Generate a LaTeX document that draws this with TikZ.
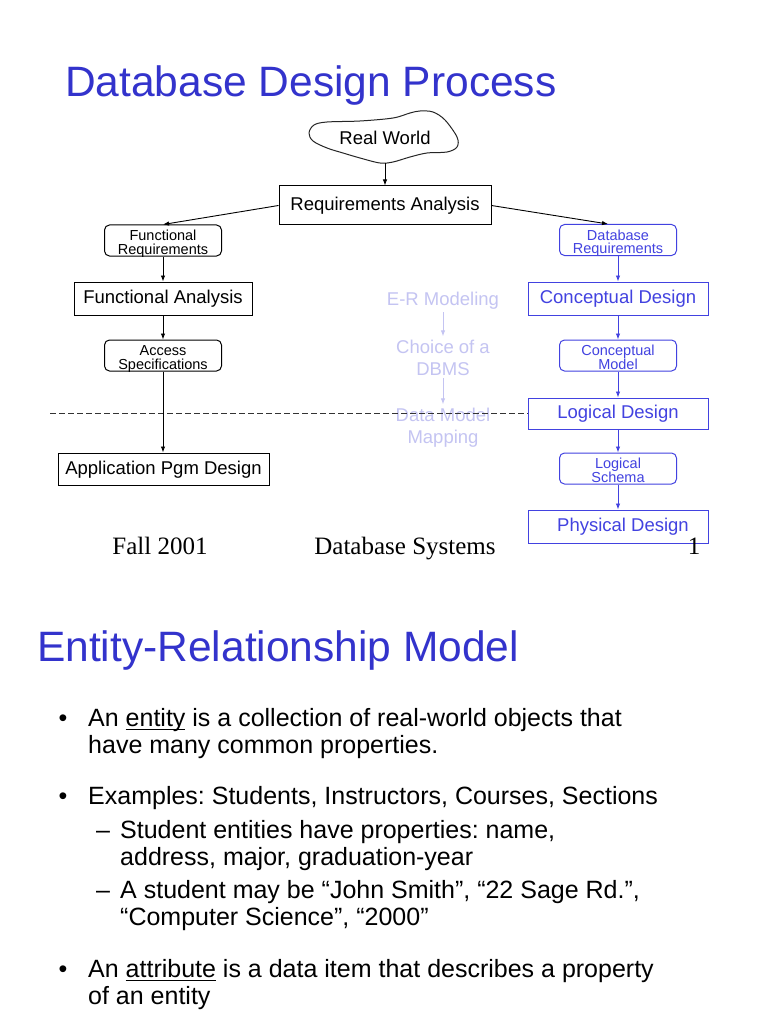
\documentclass[tikz,border=0pt]{standalone}
\usepackage{fontspec}
\setmainfont{Liberation Sans}
\newfontfamily\timesfont{Liberation Serif}
\usetikzlibrary{arrows.meta}

\definecolor{titleblue}{RGB}{51,51,204}
\definecolor{dbblue}{RGB}{66,66,224}
\definecolor{faded}{RGB}{196,196,242}
\setlength{\lineskiplimit}{-10pt}
\frenchspacing
% underlined word with the rule close to the baseline
\newcommand{\uword}[1]{\setbox0\hbox{#1}\rlap{\rule[-3.5pt]{\wd0}{1pt}}\box0\relax}

\begin{document}
\begin{tikzpicture}[x=1pt,y=-1pt]
\tikzset{
  box/.style n args={2}{draw, line width=1pt, minimum width=#1, minimum height=#2, inner sep=0pt,
    text height=13pt, text depth=3pt, font=\fontsize{18.5}{22}\selectfont},
  roundbox/.style={draw, rounded corners=5pt, line width=1pt, minimum width=117pt, inner xsep=0pt,
    inner ysep=1.75pt, text height=27.5pt, text depth=0pt, align=center, font=\fontsize{14.5}{13.5}\selectfont},
  fadetext/.style={text=faded, align=center, inner xsep=0pt, inner ysep=3pt,
    font=\fontsize{18.5}{22}\selectfont},
  arr/.style={-{Latex[length=6pt,width=4.5pt]}, line width=0.9pt},
  dashline/.style={black!80, line width=0.8pt, dash pattern=on 6pt off 3pt},
  heading/.style={text=titleblue, inner sep=0pt, font=\fontsize{42.5}{50}\selectfont},
  body/.style={inner sep=0pt, align=left, font=\fontsize{25}{27}\selectfont},
  foot/.style={inner sep=0pt, font=\timesfont\fontsize{25}{30}\selectfont}
}
\fill[white] (0,0) rectangle (768,1024);
\useasboundingbox (0,0) rectangle (768,1024);

% ---- slide 1
\node[heading, anchor=base west] (title1) at (65,97) {Database Design Process};

\draw[black!85, line width=1pt, line join=round] plot[smooth cycle, tension=0.55] coordinates {
  (309,133) (314,125) (327,122) (360,121) (393,118) (410,113) (420,111) (433,112) (445,120)
  (457,137) (457,147) (447,152) (427,153) (410,157) (393,162) (380,163) (360,158) (343,153)
  (327,148) (313,141)};
\node[minimum width=150pt, minimum height=50pt, inner sep=0pt, font=\fontsize{18.5}{22}\selectfont] (world) at (385,138) {Real World};

\node[box={212pt}{39pt}] (reqa) at (385,205.5) {Requirements Analysis};

% functional side
\node[roundbox] (freq) at (163,240.5) {Functional\\Requirements};
\node[box={178pt}{33pt}] (fana) at (163,298.5) {Functional Analysis};
\node[roundbox] (aspec) at (163,355.5) {Access\\Specifications};
\node[box={211pt}{32pt}] (apgm) at (163.5,469) {Application Pgm Design};

% database side
\node[roundbox, draw=dbblue, text=dbblue] (dbreq) at (618,240) {Database\\Requirements};
\node[box={180pt}{33pt}, draw=dbblue, text=dbblue] (cdes) at (618,298.5) {Conceptual Design};
\node[roundbox, draw=dbblue, text=dbblue] (cmod) at (618,355.5) {Conceptual\\Model};
\node[box={180pt}{31pt}, draw=dbblue, text=dbblue] (ldes) at (618,413.5) {Logical Design};
\node[roundbox, draw=dbblue, text=dbblue] (lsch) at (618,468.5) {Logical\\Schema};
\node[box={180pt}{33pt}, draw=dbblue, text=dbblue] (pdes) at (618,526.5) {\hspace*{10pt}Physical Design};

% faded middle steps (base = last line)
\node[fadetext, text height=13.5pt, text depth=4pt, anchor=base] (erm) at (443,305) {E-R Modeling};
\node[fadetext, text height=35.5pt, text depth=0pt, anchor=base] (dbms) at (443,375) {Choice of a\\DBMS};
\node[fadetext, text height=35.5pt, text depth=4pt, anchor=base] (dmap) at (443,443) {Data Model\\Mapping};

\coordinate (dl) at (50,413.5);
\draw[dashline] (dl) -- (ldes.west);

\draw[arr] (world) -- (reqa);
\draw[arr] (reqa.west) -- (freq.north);
\draw[arr] (reqa.east) -- ([xshift=-10pt]dbreq.north);
\draw[arr] (freq) -- (fana);
\draw[arr] (fana) -- (aspec);
\draw[arr] (aspec.south) -- (aspec.south |- apgm.north);
\draw[arr, dbblue] (dbreq) -- (cdes);
\draw[arr, dbblue] (cdes) -- (cmod);
\draw[arr, dbblue] (cmod) -- (ldes);
\draw[arr, dbblue] (ldes) -- (lsch);
\draw[arr, dbblue] (lsch) -- (pdes);
\draw[arr, faded] (erm) -- (dbms);
\draw[arr, faded] (dbms) -- (dmap);

\node[foot, anchor=base] (fall) at (160,554) {Fall 2001};
\node[foot, anchor=base] (course) at (405,554) {Database Systems};
\node[foot, anchor=base] (pageno) at (694,554) {1};

% ---- slide 2 (multi-line items sit on their last baseline)
\node[heading, anchor=base west] (title2) at (37,661) {Entity-Relationship Model};

\node[body, anchor=base] (dot1) at (63,726) {•};
\node[body, anchor=base west] (item1) at (88,753) {An \uword{entity} is a collection of real-world objects that\\have many common properties.};
\node[body, anchor=base] (dot2) at (63,804) {•};
\node[body, anchor=base west] (item2) at (88,804) {Examples: Students, Instructors, Courses, Sections};
\node[body, anchor=base west] (dash1) at (96,838) {–};
\node[body, anchor=base west] (sub1) at (120,865) {Student entities have properties: name,\\address, major, graduation-year};
\node[body, anchor=base west] (dash2) at (96,898) {–};
\node[body, anchor=base west] (sub2) at (120,925) {A student may be “John Smith”, “22 Sage Rd.”,\\“Computer Science”, “2000”};
\node[body, anchor=base] (dot3) at (63,977) {•};
\node[body, anchor=base west] (item3) at (88,1004) {An \uword{attribute} is a data item that describes a property\\of an entity};
\end{tikzpicture}
\end{document}
